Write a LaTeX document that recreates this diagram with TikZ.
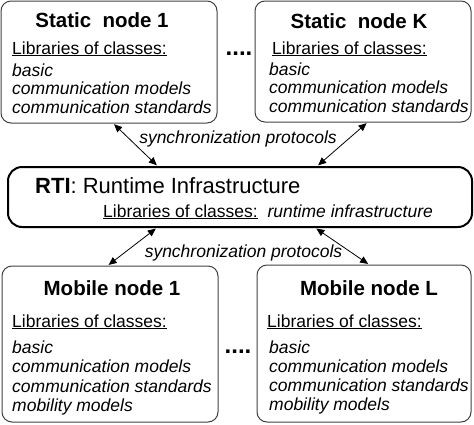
\documentclass[tikz,border=0pt]{standalone}
\usepackage{fontspec}
\setmainfont{Liberation Sans}
\usetikzlibrary{
    arrows.meta,
    calc
}

\tikzset{
    box/.style={draw=black!75, line width=1pt, rounded corners=10pt,
                minimum width=216pt, inner sep=0},
    title/.style={anchor=base, inner sep=0,
                  font=\fontsize{20.5}{24}\selectfont\bfseries},
    libs/.style={anchor=base west, inner sep=0,
                 font=\fontsize{17.5}{19}\selectfont},
    item/.style={anchor=base west, inner sep=0,
                 font=\fontsize{17.5}{19}\selectfont\itshape},
    dots/.style={anchor=base, inner sep=0,
                 font=\fontsize{24}{24}\selectfont\bfseries},
    syncarrow/.style={{Triangle[length=8pt,width=7pt]}-{Triangle[length=8pt,width=7pt]},
                      line width=0.8pt, shorten <=1pt, shorten >=1pt}
}

\begin{document}
\begin{tikzpicture}[x=1pt,y=-1pt]

\useasboundingbox (0,0) rectangle (474,424);

% Static nodes
\node[box, minimum height=122pt] (s1) at (109,62) {};
\node[box, minimum height=121pt] (sK) at (363,61.5) {};

\node[title] (s1t) at (102,27) {Static\ \ node 1};
\node[libs] (s1l) at (12,54) {\underline{Libraries of classes:}};
\foreach \t [count=\i from 0] in {basic,communication models,communication standards}{
    \node[item] (s1i\i) at (12,76+18.5*\i) {\t};
}

\node[title] (sKt) at (359,28) {Static\ \ node K};
\node[libs] (sKl) at (272,54) {\underline{Libraries of classes:}};
\foreach \t [count=\i from 0] in {basic,communication models,communication standards}{
    \node[item] (sKi\i) at (269,75+18.5*\i) {\t};
}

\node[dots] (dtop) at (239,55) {....};

% RTI
\node[box, draw=black, line width=2pt, rounded corners=14pt,
      minimum width=464pt, minimum height=60pt] (rti) at (240,197) {};
\node[anchor=base west, inner sep=0, font=\fontsize{22}{24}\selectfont]
    (rtit) at (35,193) {\textbf{RTI}: Runtime Infrastructure};
\node[libs] (rtil) at (103,217)
    {\underline{Libraries of classes:}\ \ \textit{runtime infrastructure}};

% Mobile nodes
\node[box, minimum height=156pt] (m1) at (110,344) {};
\node[box, minimum width=214pt, minimum height=157pt] (mL) at (364,343.5) {};

\node[title] (m1t) at (112,295) {Mobile node 1};
\node[libs] (m1l) at (12,327) {\underline{Libraries of classes:}};
\foreach \t [count=\i from 0] in {basic,communication models,communication standards,mobility models}{
    \node[item] (m1i\i) at (12,353+19.5*\i) {\t};
}

\node[title] (mLt) at (369,295) {Mobile node L};
\node[libs] (mLl) at (267,327) {\underline{Libraries of classes:}};
\foreach \t [count=\i from 0] in {basic,communication models,communication standards,mobility models}{
    \node[item] (mLi\i) at (269,353+19.3*\i) {\t};
}

\node[dots] (dbot) at (238,353) {....};

% Synchronization
\node[item, anchor=base] (synctop) at (238,143) {synchronization protocols};
\node[item, anchor=base] (syncbot) at (243.5,257) {synchronization protocols};

\draw[syncarrow] ($(s1.south west)!0.52!(s1.south east)$)
    -- ($(rti.north west)!0.323!(rti.north east)$);
\draw[syncarrow] ($(sK.south west)!0.52!(sK.south east)$)
    -- ($(rti.north west)!0.666!(rti.north east)$);
\draw[syncarrow] ($(rti.south west)!0.321!(rti.south east)$)
    -- ($(m1.north west)!0.49!(m1.north east)$);
\draw[syncarrow] ($(rti.south west)!0.662!(rti.south east)$)
    -- ($(mL.north west)!0.523!(mL.north east)$);

\end{tikzpicture}
\end{document}
